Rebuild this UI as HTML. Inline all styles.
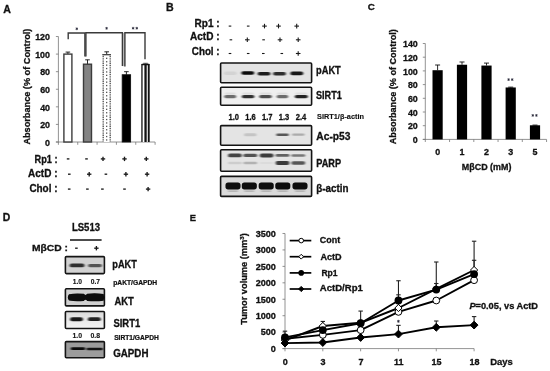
<!DOCTYPE html>
<html><head><meta charset="utf-8"><style>
html,body{margin:0;padding:0;background:#fff;width:550px;height:371px;overflow:hidden}
svg{display:block}
text{font-family:'Liberation Sans', Arial, sans-serif}
</style></head><body>
<svg width="550" height="371" viewBox="0 0 550 371">
<rect width="550" height="371" fill="#fff"/>
<text x="3.2" y="13.3" font-size="10.6" font-weight="bold" text-anchor="start" fill="#111" stroke="#111" stroke-width="0.3" >A</text>
<line x1="58.4" y1="36.519999999999996" x2="58.4" y2="142.3" stroke="#777" stroke-width="0.8" />
<line x1="55.9" y1="142.0" x2="58.4" y2="142.0" stroke="#777" stroke-width="0.8" />
<text x="50.0" y="145.7" font-size="8.9" font-weight="bold" text-anchor="end" fill="#111" stroke="#111" stroke-width="0.3" >0</text>
<line x1="55.9" y1="124.42" x2="58.4" y2="124.42" stroke="#777" stroke-width="0.8" />
<text x="50.0" y="128.12" font-size="8.9" font-weight="bold" text-anchor="end" fill="#111" stroke="#111" stroke-width="0.3" >20</text>
<line x1="55.9" y1="106.84" x2="58.4" y2="106.84" stroke="#777" stroke-width="0.8" />
<text x="50.0" y="110.54" font-size="8.9" font-weight="bold" text-anchor="end" fill="#111" stroke="#111" stroke-width="0.3" >40</text>
<line x1="55.9" y1="89.25999999999999" x2="58.4" y2="89.25999999999999" stroke="#777" stroke-width="0.8" />
<text x="50.0" y="92.96" font-size="8.9" font-weight="bold" text-anchor="end" fill="#111" stroke="#111" stroke-width="0.3" >60</text>
<line x1="55.9" y1="71.68" x2="58.4" y2="71.68" stroke="#777" stroke-width="0.8" />
<text x="50.0" y="75.38000000000001" font-size="8.9" font-weight="bold" text-anchor="end" fill="#111" stroke="#111" stroke-width="0.3" >80</text>
<line x1="55.9" y1="54.099999999999994" x2="58.4" y2="54.099999999999994" stroke="#777" stroke-width="0.8" />
<text x="50.0" y="57.8" font-size="8.9" font-weight="bold" text-anchor="end" fill="#111" stroke="#111" stroke-width="0.3" >100</text>
<line x1="55.9" y1="36.519999999999996" x2="58.4" y2="36.519999999999996" stroke="#777" stroke-width="0.8" />
<text x="50.0" y="40.22" font-size="8.9" font-weight="bold" text-anchor="end" fill="#111" stroke="#111" stroke-width="0.3" >120</text>
<line x1="55.9" y1="142" x2="155.1" y2="142" stroke="#777" stroke-width="0.8" />
<line x1="58.4" y1="142" x2="58.4" y2="144.8" stroke="#777" stroke-width="0.8" />
<line x1="77.74" y1="142" x2="77.74" y2="144.8" stroke="#777" stroke-width="0.8" />
<line x1="97.08" y1="142" x2="97.08" y2="144.8" stroke="#777" stroke-width="0.8" />
<line x1="116.41999999999999" y1="142" x2="116.41999999999999" y2="144.8" stroke="#777" stroke-width="0.8" />
<line x1="135.76" y1="142" x2="135.76" y2="144.8" stroke="#777" stroke-width="0.8" />
<line x1="155.1" y1="142" x2="155.1" y2="144.8" stroke="#777" stroke-width="0.8" />
<text transform="translate(30.0,86.6) rotate(-90)" x="0" y="0" font-size="9.8" font-weight="bold" text-anchor="middle" fill="#111" stroke="#111" stroke-width="0.3" textLength="116" lengthAdjust="spacingAndGlyphs">Absorbance (% of Control)</text>
<defs><pattern id="dots" width="8.4" height="3.2" patternUnits="userSpaceOnUse"><rect x="3.4" y="0.6" width="1.6" height="1.6" fill="#555"/></pattern></defs>
<line x1="67.9" y1="54.099999999999994" x2="67.9" y2="52.0783" stroke="#111" stroke-width="0.9" />
<line x1="65.60000000000001" y1="52.0783" x2="70.2" y2="52.0783" stroke="#111" stroke-width="0.9" />
<rect x="63.900000000000006" y="54.099999999999994" width="8.0" height="87.9" fill="white" stroke="#3c3c3c" stroke-width="1.4" />
<line x1="87.5" y1="64.2085" x2="87.5" y2="59.813500000000005" stroke="#111" stroke-width="0.9" />
<line x1="85.2" y1="59.813500000000005" x2="89.8" y2="59.813500000000005" stroke="#111" stroke-width="0.9" />
<rect x="83.5" y="64.2085" width="8.0" height="77.7915" fill="#848484" stroke="#3c3c3c" stroke-width="1.4" />
<line x1="106.7" y1="54.099999999999994" x2="106.7" y2="51.8146" stroke="#111" stroke-width="0.9" />
<line x1="104.4" y1="51.8146" x2="109.0" y2="51.8146" stroke="#111" stroke-width="0.9" />
<rect x="103.0" y="54.599999999999994" width="7.4" height="87.4" fill="white" stroke="none" stroke-width="1" />
<line x1="102.5" y1="54.699999999999996" x2="110.9" y2="54.699999999999996" stroke="#333" stroke-width="1.2" />
<line x1="103.2" y1="54.099999999999994" x2="103.2" y2="142" stroke="#4a4a4a" stroke-width="1.3" stroke-dasharray="1.1 0.7"/>
<line x1="110.2" y1="54.099999999999994" x2="110.2" y2="142" stroke="#4a4a4a" stroke-width="1.3" stroke-dasharray="1.1 0.7"/>
<rect x="106.0" y="57.7" width="1.3" height="1.3" fill="#555"/>
<rect x="106.0" y="61.1" width="1.3" height="1.3" fill="#555"/>
<rect x="106.0" y="64.5" width="1.3" height="1.3" fill="#555"/>
<rect x="106.0" y="67.9" width="1.3" height="1.3" fill="#555"/>
<rect x="106.0" y="71.3" width="1.3" height="1.3" fill="#555"/>
<rect x="106.0" y="74.7" width="1.3" height="1.3" fill="#555"/>
<rect x="106.0" y="78.1" width="1.3" height="1.3" fill="#555"/>
<rect x="106.0" y="81.5" width="1.3" height="1.3" fill="#555"/>
<rect x="106.0" y="84.9" width="1.3" height="1.3" fill="#555"/>
<rect x="106.0" y="88.3" width="1.3" height="1.3" fill="#555"/>
<rect x="106.0" y="91.7" width="1.3" height="1.3" fill="#555"/>
<rect x="106.0" y="95.1" width="1.3" height="1.3" fill="#555"/>
<rect x="106.0" y="98.5" width="1.3" height="1.3" fill="#555"/>
<rect x="106.0" y="101.9" width="1.3" height="1.3" fill="#555"/>
<rect x="106.0" y="105.3" width="1.3" height="1.3" fill="#555"/>
<rect x="106.0" y="108.7" width="1.3" height="1.3" fill="#555"/>
<rect x="106.0" y="112.1" width="1.3" height="1.3" fill="#555"/>
<rect x="106.0" y="115.5" width="1.3" height="1.3" fill="#555"/>
<rect x="106.0" y="118.9" width="1.3" height="1.3" fill="#555"/>
<rect x="106.0" y="122.3" width="1.3" height="1.3" fill="#555"/>
<rect x="106.0" y="125.7" width="1.3" height="1.3" fill="#555"/>
<rect x="106.0" y="129.1" width="1.3" height="1.3" fill="#555"/>
<rect x="106.0" y="132.5" width="1.3" height="1.3" fill="#555"/>
<rect x="106.0" y="135.9" width="1.3" height="1.3" fill="#555"/>
<rect x="106.0" y="139.3" width="1.3" height="1.3" fill="#555"/>
<line x1="126.4" y1="74.7565" x2="126.4" y2="71.68" stroke="#111" stroke-width="0.9" />
<line x1="124.10000000000001" y1="71.68" x2="128.70000000000002" y2="71.68" stroke="#111" stroke-width="0.9" />
<rect x="122.2" y="74.7565" width="8.4" height="67.2435" fill="#000" stroke="#111" stroke-width="0.9" />
<line x1="145.5" y1="63.769000000000005" x2="145.5" y2="63.329499999999996" stroke="#111" stroke-width="0.9" />
<line x1="143.2" y1="63.329499999999996" x2="147.8" y2="63.329499999999996" stroke="#111" stroke-width="0.9" />
<rect x="141.4" y="63.769000000000005" width="8.200000000000001" height="78.231" fill="#fff" stroke="none" stroke-width="1" />
<rect x="141.3" y="63.769000000000005" width="8.4" height="1.6" rx="0.8" fill="#111"/>
<rect x="141.3" y="64.369" width="1.3" height="77.631" fill="#111" stroke="none" stroke-width="1" />
<rect x="144.4" y="64.369" width="2.3" height="77.631" fill="#111" stroke="none" stroke-width="1" />
<rect x="147.8" y="64.369" width="1.9" height="77.631" fill="#111" stroke="none" stroke-width="1" />
<rect x="122.3" y="33" width="2.6" height="33.2" fill="#c4c4c4"/>
<polyline points="68.2,39.3 68.2,33 84.9,33 84.9,56.6" fill="none" stroke="#3a3a3a" stroke-width="1.4"/>
<polyline points="85.9,56.6 85.9,32.8 122.4,32.8 122.4,66.0" fill="none" stroke="#3a3a3a" stroke-width="1.4"/>
<polyline points="124.9,66.4 124.9,32.8 145,32.8 145,59.3" fill="none" stroke="#3a3a3a" stroke-width="1.4"/>
<line x1="76.80" y1="27.45" x2="76.80" y2="30.15" stroke="#223" stroke-width="0.75"/>
<line x1="75.63" y1="28.12" x2="77.97" y2="29.48" stroke="#223" stroke-width="0.75"/>
<line x1="77.97" y1="28.12" x2="75.63" y2="29.48" stroke="#223" stroke-width="0.75"/>
<line x1="106.60" y1="26.95" x2="106.60" y2="29.65" stroke="#223" stroke-width="0.75"/>
<line x1="105.43" y1="27.62" x2="107.77" y2="28.98" stroke="#223" stroke-width="0.75"/>
<line x1="107.77" y1="27.62" x2="105.43" y2="28.98" stroke="#223" stroke-width="0.75"/>
<line x1="133.10" y1="26.85" x2="133.10" y2="29.55" stroke="#223" stroke-width="0.75"/>
<line x1="131.93" y1="27.52" x2="134.27" y2="28.88" stroke="#223" stroke-width="0.75"/>
<line x1="134.27" y1="27.52" x2="131.93" y2="28.88" stroke="#223" stroke-width="0.75"/>
<line x1="136.80" y1="26.85" x2="136.80" y2="29.55" stroke="#223" stroke-width="0.75"/>
<line x1="135.63" y1="27.52" x2="137.97" y2="28.88" stroke="#223" stroke-width="0.75"/>
<line x1="137.97" y1="27.52" x2="135.63" y2="28.88" stroke="#223" stroke-width="0.75"/>
<text x="57.5" y="162.5" font-size="10.0" font-weight="bold" text-anchor="end" fill="#111" stroke="#111" stroke-width="0.3" textLength="23.0" lengthAdjust="spacingAndGlyphs" >Rp1 :</text>
<text x="57.5" y="176.6" font-size="10.0" font-weight="bold" text-anchor="end" fill="#111" stroke="#111" stroke-width="0.3" textLength="29.4" lengthAdjust="spacingAndGlyphs" >ActD :</text>
<text x="57.5" y="192.1" font-size="10.0" font-weight="bold" text-anchor="end" fill="#111" stroke="#111" stroke-width="0.3" textLength="28.1" lengthAdjust="spacingAndGlyphs" >Chol :</text>
<line x1="66.8" y1="158.9" x2="69.39999999999999" y2="158.9" stroke="#1a1a1a" stroke-width="1.35" />
<line x1="85.2" y1="158.9" x2="87.8" y2="158.9" stroke="#1a1a1a" stroke-width="1.35" />
<line x1="100.8" y1="158.9" x2="105.2" y2="158.9" stroke="#1a1a1a" stroke-width="1.35" />
<line x1="103.0" y1="156.70000000000002" x2="103.0" y2="161.1" stroke="#1a1a1a" stroke-width="1.35" />
<line x1="122.3" y1="158.9" x2="126.7" y2="158.9" stroke="#1a1a1a" stroke-width="1.35" />
<line x1="124.5" y1="156.70000000000002" x2="124.5" y2="161.1" stroke="#1a1a1a" stroke-width="1.35" />
<line x1="144.10000000000002" y1="158.9" x2="148.5" y2="158.9" stroke="#1a1a1a" stroke-width="1.35" />
<line x1="146.3" y1="156.70000000000002" x2="146.3" y2="161.1" stroke="#1a1a1a" stroke-width="1.35" />
<line x1="68.0" y1="174.2" x2="70.6" y2="174.2" stroke="#1a1a1a" stroke-width="1.35" />
<line x1="87.0" y1="174.2" x2="91.4" y2="174.2" stroke="#1a1a1a" stroke-width="1.35" />
<line x1="89.2" y1="172.0" x2="89.2" y2="176.39999999999998" stroke="#1a1a1a" stroke-width="1.35" />
<line x1="104.60000000000001" y1="174.2" x2="107.2" y2="174.2" stroke="#1a1a1a" stroke-width="1.35" />
<line x1="123.7" y1="174.2" x2="128.1" y2="174.2" stroke="#1a1a1a" stroke-width="1.35" />
<line x1="125.9" y1="172.0" x2="125.9" y2="176.39999999999998" stroke="#1a1a1a" stroke-width="1.35" />
<line x1="144.9" y1="174.2" x2="149.29999999999998" y2="174.2" stroke="#1a1a1a" stroke-width="1.35" />
<line x1="147.1" y1="172.0" x2="147.1" y2="176.39999999999998" stroke="#1a1a1a" stroke-width="1.35" />
<line x1="67.9" y1="189.1" x2="70.5" y2="189.1" stroke="#1a1a1a" stroke-width="1.35" />
<line x1="86.10000000000001" y1="189.1" x2="88.7" y2="189.1" stroke="#1a1a1a" stroke-width="1.35" />
<line x1="101.10000000000001" y1="189.1" x2="103.7" y2="189.1" stroke="#1a1a1a" stroke-width="1.35" />
<line x1="123.2" y1="189.1" x2="125.8" y2="189.1" stroke="#1a1a1a" stroke-width="1.35" />
<line x1="145.9" y1="189.1" x2="150.29999999999998" y2="189.1" stroke="#1a1a1a" stroke-width="1.35" />
<line x1="148.1" y1="186.9" x2="148.1" y2="191.29999999999998" stroke="#1a1a1a" stroke-width="1.35" />
<text x="165.9" y="10.6" font-size="10.6" font-weight="bold" text-anchor="start" fill="#111" stroke="#111" stroke-width="0.3" >B</text>
<defs><filter id="bl1" x="-30%" y="-100%" width="160%" height="300%"><feGaussianBlur stdDeviation="0.9 0.7"/></filter><filter id="bl2" x="-30%" y="-100%" width="160%" height="300%"><feGaussianBlur stdDeviation="0.6 0.5"/></filter></defs>
<text x="219.6" y="27.3" font-size="10.0" font-weight="bold" text-anchor="end" fill="#111" stroke="#111" stroke-width="0.3" textLength="25.1" lengthAdjust="spacingAndGlyphs" >Rp1 :</text>
<text x="219.6" y="40.0" font-size="10.0" font-weight="bold" text-anchor="end" fill="#111" stroke="#111" stroke-width="0.3" textLength="29.6" lengthAdjust="spacingAndGlyphs" >ActD :</text>
<text x="219.6" y="54.8" font-size="10.0" font-weight="bold" text-anchor="end" fill="#111" stroke="#111" stroke-width="0.3" textLength="27.8" lengthAdjust="spacingAndGlyphs" >Chol :</text>
<line x1="228.7" y1="26.1" x2="231.3" y2="26.1" stroke="#1a1a1a" stroke-width="1.1" />
<line x1="246.89999999999998" y1="26.1" x2="249.5" y2="26.1" stroke="#1a1a1a" stroke-width="1.1" />
<line x1="262.2" y1="26.1" x2="266.8" y2="26.1" stroke="#1a1a1a" stroke-width="1.1" />
<line x1="264.5" y1="23.8" x2="264.5" y2="28.400000000000002" stroke="#1a1a1a" stroke-width="1.1" />
<line x1="276.2" y1="26.1" x2="280.8" y2="26.1" stroke="#1a1a1a" stroke-width="1.1" />
<line x1="278.5" y1="23.8" x2="278.5" y2="28.400000000000002" stroke="#1a1a1a" stroke-width="1.1" />
<line x1="294.4" y1="26.1" x2="299.0" y2="26.1" stroke="#1a1a1a" stroke-width="1.1" />
<line x1="296.7" y1="23.8" x2="296.7" y2="28.400000000000002" stroke="#1a1a1a" stroke-width="1.1" />
<line x1="229.6" y1="39.8" x2="232.20000000000002" y2="39.8" stroke="#1a1a1a" stroke-width="1.1" />
<line x1="245.0" y1="39.8" x2="249.60000000000002" y2="39.8" stroke="#1a1a1a" stroke-width="1.1" />
<line x1="247.3" y1="37.5" x2="247.3" y2="42.099999999999994" stroke="#1a1a1a" stroke-width="1.1" />
<line x1="262.3" y1="39.8" x2="264.90000000000003" y2="39.8" stroke="#1a1a1a" stroke-width="1.1" />
<line x1="277.7" y1="39.8" x2="282.3" y2="39.8" stroke="#1a1a1a" stroke-width="1.1" />
<line x1="280" y1="37.5" x2="280" y2="42.099999999999994" stroke="#1a1a1a" stroke-width="1.1" />
<line x1="295.9" y1="39.8" x2="300.5" y2="39.8" stroke="#1a1a1a" stroke-width="1.1" />
<line x1="298.2" y1="37.5" x2="298.2" y2="42.099999999999994" stroke="#1a1a1a" stroke-width="1.1" />
<line x1="228.7" y1="53.5" x2="231.3" y2="53.5" stroke="#1a1a1a" stroke-width="1.1" />
<line x1="246.89999999999998" y1="53.5" x2="249.5" y2="53.5" stroke="#1a1a1a" stroke-width="1.1" />
<line x1="262.0" y1="53.5" x2="264.6" y2="53.5" stroke="#1a1a1a" stroke-width="1.1" />
<line x1="280.5" y1="53.5" x2="283.1" y2="53.5" stroke="#1a1a1a" stroke-width="1.1" />
<line x1="295.9" y1="53.5" x2="300.5" y2="53.5" stroke="#1a1a1a" stroke-width="1.1" />
<line x1="298.2" y1="51.2" x2="298.2" y2="55.8" stroke="#1a1a1a" stroke-width="1.1" />
<rect x="220.6" y="63.0" width="90.99999999999999" height="19.7" rx="1" fill="#e3e3e3" stroke="#141414" stroke-width="1.6"/>
<rect x="223.9" y="71.5" width="12.8" height="3.6" rx="1.8" fill="#000" fill-opacity="0.07" filter="url(#bl1)"/>
<rect x="241.4" y="71.2" width="12.8" height="3.6" rx="1.8" fill="#000" fill-opacity="0.95" filter="url(#bl1)"/>
<rect x="257.6" y="72.0" width="12.8" height="3.6" rx="1.8" fill="#000" fill-opacity="0.88" filter="url(#bl1)"/>
<rect x="273.1" y="71.9" width="12.8" height="3.6" rx="1.8" fill="#000" fill-opacity="0.8" filter="url(#bl1)"/>
<rect x="290.40000000000003" y="71.60000000000001" width="12.8" height="3.6" rx="1.8" fill="#000" fill-opacity="0.9" filter="url(#bl1)"/>
<rect x="220.6" y="87.3" width="90.99999999999999" height="17.899999999999995" rx="1" fill="#efefef" stroke="#141414" stroke-width="1.6"/>
<rect x="224.2" y="94.94999999999999" width="12.0" height="3.3" rx="1.65" fill="#000" fill-opacity="0.55" filter="url(#bl1)"/>
<rect x="224.7" y="92.39999999999999" width="11.0" height="2.4" rx="1.2" fill="#000" fill-opacity="0.07" filter="url(#bl1)"/>
<rect x="241.85" y="94.94999999999999" width="12.5" height="3.3" rx="1.65" fill="#000" fill-opacity="0.8" filter="url(#bl1)"/>
<rect x="242.35" y="92.39999999999999" width="11.5" height="2.4" rx="1.2" fill="#000" fill-opacity="0.07" filter="url(#bl1)"/>
<rect x="259.25" y="94.94999999999999" width="12.5" height="3.3" rx="1.65" fill="#000" fill-opacity="0.68" filter="url(#bl1)"/>
<rect x="259.75" y="92.39999999999999" width="11.5" height="2.4" rx="1.2" fill="#000" fill-opacity="0.07" filter="url(#bl1)"/>
<rect x="276.65" y="94.94999999999999" width="11.5" height="3.3" rx="1.65" fill="#000" fill-opacity="0.55" filter="url(#bl1)"/>
<rect x="277.15" y="92.39999999999999" width="10.5" height="2.4" rx="1.2" fill="#000" fill-opacity="0.07" filter="url(#bl1)"/>
<rect x="294.8" y="94.94999999999999" width="13.0" height="3.3" rx="1.65" fill="#000" fill-opacity="0.86" filter="url(#bl1)"/>
<rect x="295.3" y="92.39999999999999" width="12.0" height="2.4" rx="1.2" fill="#000" fill-opacity="0.07" filter="url(#bl1)"/>
<text x="233.7" y="119.5" font-size="8.6" font-weight="bold" text-anchor="middle" fill="#111" stroke="#111" stroke-width="0.3" textLength="10.5" lengthAdjust="spacingAndGlyphs" >1.0</text>
<text x="250.5" y="119.5" font-size="8.6" font-weight="bold" text-anchor="middle" fill="#111" stroke="#111" stroke-width="0.3" textLength="10.5" lengthAdjust="spacingAndGlyphs" >1.6</text>
<text x="267.2" y="119.5" font-size="8.6" font-weight="bold" text-anchor="middle" fill="#111" stroke="#111" stroke-width="0.3" textLength="10.5" lengthAdjust="spacingAndGlyphs" >1.7</text>
<text x="284" y="119.5" font-size="8.6" font-weight="bold" text-anchor="middle" fill="#111" stroke="#111" stroke-width="0.3" textLength="10.5" lengthAdjust="spacingAndGlyphs" >1.3</text>
<text x="301" y="119.5" font-size="8.6" font-weight="bold" text-anchor="middle" fill="#111" stroke="#111" stroke-width="0.3" textLength="10.5" lengthAdjust="spacingAndGlyphs" >2.4</text>
<text x="317" y="119.2" font-size="6.7" font-weight="bold" text-anchor="start" fill="#111" stroke="#111" stroke-width="0.12" textLength="47" lengthAdjust="spacingAndGlyphs" >SIRT1/&#946;-actin</text>
<rect x="220.6" y="125.6" width="90.99999999999999" height="19.600000000000012" rx="1" fill="#e4e4e4" stroke="#141414" stroke-width="1.6"/>
<rect x="244.05" y="133.2" width="12.5" height="3.0" rx="1.5" fill="#000" fill-opacity="0.14" filter="url(#bl1)"/>
<rect x="276.25" y="133.5" width="12.5" height="2.4" rx="1.2" fill="#000" fill-opacity="0.62" filter="url(#bl1)"/>
<rect x="292.05" y="133.6" width="12.5" height="2.2" rx="1.1" fill="#000" fill-opacity="0.25" filter="url(#bl1)"/>
<rect x="220.6" y="149.79999999999998" width="90.99999999999999" height="21.400000000000023" rx="1" fill="#e4e4e4" stroke="#141414" stroke-width="1.6"/>
<rect x="228.0" y="153.5" width="13.8" height="3.8" rx="1.9" fill="#000" fill-opacity="0.7" filter="url(#bl1)"/>
<rect x="243.4" y="153.75" width="13.8" height="3.3" rx="1.65" fill="#000" fill-opacity="0.64" filter="url(#bl1)"/>
<rect x="259.70000000000005" y="153.4" width="13.8" height="4.0" rx="2.0" fill="#000" fill-opacity="0.74" filter="url(#bl1)"/>
<rect x="275.6" y="154.05" width="13.8" height="2.7" rx="1.35" fill="#000" fill-opacity="0.58" filter="url(#bl1)"/>
<rect x="291.40000000000003" y="154.15" width="13.8" height="2.5" rx="1.25" fill="#000" fill-opacity="0.48" filter="url(#bl1)"/>
<rect x="228.0" y="161.8" width="13.8" height="2.4" rx="1.2" fill="#000" fill-opacity="0.1" filter="url(#bl1)"/>
<rect x="243.4" y="161.7" width="13.8" height="2.6" rx="1.3" fill="#000" fill-opacity="0.22" filter="url(#bl1)"/>
<rect x="259.70000000000005" y="162.0" width="13.8" height="2" rx="1.0" fill="#000" fill-opacity="0.04" filter="url(#bl1)"/>
<rect x="275.6" y="161.1" width="13.8" height="3.8" rx="1.9" fill="#000" fill-opacity="0.74" filter="url(#bl1)"/>
<rect x="291.40000000000003" y="161.35" width="13.8" height="3.3" rx="1.65" fill="#000" fill-opacity="0.62" filter="url(#bl1)"/>
<rect x="220.6" y="176.4" width="90.99999999999999" height="19.99999999999999" rx="1" fill="#dadada" stroke="#141414" stroke-width="1.6"/>
<rect x="225.5" y="182.5" width="15.0" height="6.9" rx="2.6" fill="#080808" filter="url(#bl2)"/>
<rect x="228.0" y="190.6" width="10" height="1.2" rx="0.6" fill="#000" fill-opacity="0.22" filter="url(#bl1)"/>
<rect x="241.8" y="182.5" width="15.0" height="6.9" rx="2.6" fill="#080808" filter="url(#bl2)"/>
<rect x="244.3" y="190.6" width="10" height="1.2" rx="0.6" fill="#000" fill-opacity="0.22" filter="url(#bl1)"/>
<rect x="258.7" y="182.5" width="15.0" height="6.9" rx="2.6" fill="#080808" filter="url(#bl2)"/>
<rect x="261.2" y="190.6" width="10" height="1.2" rx="0.6" fill="#000" fill-opacity="0.22" filter="url(#bl1)"/>
<rect x="275.3" y="182.5" width="15.0" height="6.9" rx="2.6" fill="#080808" filter="url(#bl2)"/>
<rect x="277.8" y="190.6" width="10" height="1.2" rx="0.6" fill="#000" fill-opacity="0.22" filter="url(#bl1)"/>
<rect x="292.5" y="182.5" width="15.0" height="6.9" rx="2.6" fill="#080808" filter="url(#bl2)"/>
<rect x="295.0" y="190.6" width="10" height="1.2" rx="0.6" fill="#000" fill-opacity="0.22" filter="url(#bl1)"/>
<text x="316.0" y="74.4" font-size="10.2" font-weight="bold" text-anchor="start" fill="#111" stroke="#111" stroke-width="0.3" textLength="24.8" lengthAdjust="spacingAndGlyphs" >pAKT</text>
<text x="316.0" y="98.5" font-size="10.2" font-weight="bold" text-anchor="start" fill="#111" stroke="#111" stroke-width="0.3" textLength="25.8" lengthAdjust="spacingAndGlyphs" >SIRT1</text>
<text x="316.3" y="140.4" font-size="10.2" font-weight="bold" text-anchor="start" fill="#111" stroke="#111" stroke-width="0.3" textLength="34.2" lengthAdjust="spacingAndGlyphs" >Ac-p53</text>
<text x="316.3" y="166.6" font-size="10.2" font-weight="bold" text-anchor="start" fill="#111" stroke="#111" stroke-width="0.3" textLength="24.8" lengthAdjust="spacingAndGlyphs" >PARP</text>
<text x="316.3" y="192.0" font-size="10.2" font-weight="bold" text-anchor="start" fill="#111" stroke="#111" stroke-width="0.3" textLength="32.2" lengthAdjust="spacingAndGlyphs" >&#946;-actin</text>
<text x="367.8" y="10.4" font-size="9.8" font-weight="bold" text-anchor="start" fill="#111" stroke="#111" stroke-width="0.3" >C</text>
<line x1="425.3" y1="43.5" x2="425.3" y2="139.6" stroke="#777" stroke-width="0.8" />
<line x1="422.8" y1="139.4" x2="425.3" y2="139.4" stroke="#777" stroke-width="0.8" />
<text x="417.8" y="143.0" font-size="8.9" font-weight="bold" text-anchor="end" fill="#111" stroke="#111" stroke-width="0.3" >0</text>
<line x1="422.8" y1="125.7" x2="425.3" y2="125.7" stroke="#777" stroke-width="0.8" />
<text x="417.8" y="129.3" font-size="8.9" font-weight="bold" text-anchor="end" fill="#111" stroke="#111" stroke-width="0.3" >20</text>
<line x1="422.8" y1="112.0" x2="425.3" y2="112.0" stroke="#777" stroke-width="0.8" />
<text x="417.8" y="115.6" font-size="8.9" font-weight="bold" text-anchor="end" fill="#111" stroke="#111" stroke-width="0.3" >40</text>
<line x1="422.8" y1="98.30000000000001" x2="425.3" y2="98.30000000000001" stroke="#777" stroke-width="0.8" />
<text x="417.8" y="101.9" font-size="8.9" font-weight="bold" text-anchor="end" fill="#111" stroke="#111" stroke-width="0.3" >60</text>
<line x1="422.8" y1="84.6" x2="425.3" y2="84.6" stroke="#777" stroke-width="0.8" />
<text x="417.8" y="88.19999999999999" font-size="8.9" font-weight="bold" text-anchor="end" fill="#111" stroke="#111" stroke-width="0.3" >80</text>
<line x1="422.8" y1="70.9" x2="425.3" y2="70.9" stroke="#777" stroke-width="0.8" />
<text x="417.8" y="74.5" font-size="8.9" font-weight="bold" text-anchor="end" fill="#111" stroke="#111" stroke-width="0.3" >100</text>
<line x1="422.8" y1="57.2" x2="425.3" y2="57.2" stroke="#777" stroke-width="0.8" />
<text x="417.8" y="60.800000000000004" font-size="8.9" font-weight="bold" text-anchor="end" fill="#111" stroke="#111" stroke-width="0.3" >120</text>
<line x1="422.8" y1="43.5" x2="425.3" y2="43.5" stroke="#777" stroke-width="0.8" />
<text x="417.8" y="47.1" font-size="8.9" font-weight="bold" text-anchor="end" fill="#111" stroke="#111" stroke-width="0.3" >140</text>
<line x1="422.8" y1="139.4" x2="546.5" y2="139.4" stroke="#777" stroke-width="0.8" />
<line x1="425.3" y1="139.4" x2="425.3" y2="142" stroke="#777" stroke-width="0.8" />
<line x1="449.55" y1="139.4" x2="449.55" y2="142" stroke="#777" stroke-width="0.8" />
<line x1="473.8" y1="139.4" x2="473.8" y2="142" stroke="#777" stroke-width="0.8" />
<line x1="498.05" y1="139.4" x2="498.05" y2="142" stroke="#777" stroke-width="0.8" />
<line x1="522.3" y1="139.4" x2="522.3" y2="142" stroke="#777" stroke-width="0.8" />
<line x1="546.55" y1="139.4" x2="546.55" y2="142" stroke="#777" stroke-width="0.8" />
<text transform="translate(395.5,86.7) rotate(-90)" x="0" y="0" font-size="9.6" font-weight="bold" text-anchor="middle" fill="#111" stroke="#111" stroke-width="0.3" textLength="115" lengthAdjust="spacingAndGlyphs">Absorbance (% of Control)</text>
<line x1="437.6" y1="70.215" x2="437.6" y2="65.009" stroke="#111" stroke-width="0.9" />
<line x1="435.1" y1="65.009" x2="440.1" y2="65.009" stroke="#111" stroke-width="0.9" />
<rect x="432.5" y="70.215" width="10.2" height="69.185" fill="#000" stroke="none" stroke-width="1" />
<text x="437.6" y="155.0" font-size="8.9" font-weight="bold" text-anchor="middle" fill="#111" stroke="#111" stroke-width="0.3" >0</text>
<line x1="462.0" y1="64.735" x2="462.0" y2="61.995000000000005" stroke="#111" stroke-width="0.9" />
<line x1="459.5" y1="61.995000000000005" x2="464.5" y2="61.995000000000005" stroke="#111" stroke-width="0.9" />
<rect x="456.9" y="64.735" width="10.2" height="74.665" fill="#000" stroke="none" stroke-width="1" />
<text x="462.0" y="155.0" font-size="8.9" font-weight="bold" text-anchor="middle" fill="#111" stroke="#111" stroke-width="0.3" >1</text>
<line x1="486.5" y1="65.557" x2="486.5" y2="63.09100000000001" stroke="#111" stroke-width="0.9" />
<line x1="484.0" y1="63.09100000000001" x2="489.0" y2="63.09100000000001" stroke="#111" stroke-width="0.9" />
<rect x="481.4" y="65.557" width="10.2" height="73.843" fill="#000" stroke="none" stroke-width="1" />
<text x="486.5" y="155.0" font-size="8.9" font-weight="bold" text-anchor="middle" fill="#111" stroke="#111" stroke-width="0.3" >2</text>
<line x1="510.7" y1="87.477" x2="510.7" y2="87.1345" stroke="#111" stroke-width="0.9" />
<line x1="508.2" y1="87.1345" x2="513.2" y2="87.1345" stroke="#111" stroke-width="0.9" />
<rect x="505.59999999999997" y="87.477" width="10.2" height="51.923" fill="#000" stroke="none" stroke-width="1" />
<text x="510.7" y="155.0" font-size="8.9" font-weight="bold" text-anchor="middle" fill="#111" stroke="#111" stroke-width="0.3" >3</text>
<line x1="535.0" y1="125.289" x2="535.0" y2="125.0835" stroke="#111" stroke-width="0.9" />
<line x1="532.5" y1="125.0835" x2="537.5" y2="125.0835" stroke="#111" stroke-width="0.9" />
<rect x="529.9" y="125.289" width="10.2" height="14.111000000000004" fill="#000" stroke="none" stroke-width="1" />
<text x="535.0" y="155.0" font-size="8.9" font-weight="bold" text-anchor="middle" fill="#111" stroke="#111" stroke-width="0.3" >5</text>
<line x1="508.60" y1="78.25" x2="508.60" y2="80.95" stroke="#223" stroke-width="0.75"/>
<line x1="507.43" y1="78.92" x2="509.77" y2="80.27" stroke="#223" stroke-width="0.75"/>
<line x1="509.77" y1="78.92" x2="507.43" y2="80.27" stroke="#223" stroke-width="0.75"/>
<line x1="512.20" y1="78.25" x2="512.20" y2="80.95" stroke="#223" stroke-width="0.75"/>
<line x1="511.03" y1="78.92" x2="513.37" y2="80.27" stroke="#223" stroke-width="0.75"/>
<line x1="513.37" y1="78.92" x2="511.03" y2="80.27" stroke="#223" stroke-width="0.75"/>
<line x1="532.80" y1="114.05" x2="532.80" y2="116.75" stroke="#223" stroke-width="0.75"/>
<line x1="531.63" y1="114.73" x2="533.97" y2="116.08" stroke="#223" stroke-width="0.75"/>
<line x1="533.97" y1="114.73" x2="531.63" y2="116.08" stroke="#223" stroke-width="0.75"/>
<line x1="536.40" y1="114.05" x2="536.40" y2="116.75" stroke="#223" stroke-width="0.75"/>
<line x1="535.23" y1="114.73" x2="537.57" y2="116.08" stroke="#223" stroke-width="0.75"/>
<line x1="537.57" y1="114.73" x2="535.23" y2="116.08" stroke="#223" stroke-width="0.75"/>
<text x="486.6" y="169.9" font-size="9.0" font-weight="bold" text-anchor="middle" fill="#111" stroke="#111" stroke-width="0.3" textLength="49.6" lengthAdjust="spacingAndGlyphs" >M&#946;CD (mM)</text>
<text x="2.8" y="221.2" font-size="10.4" font-weight="bold" text-anchor="start" fill="#111" stroke="#111" stroke-width="0.3" >D</text>
<text x="86.0" y="231.1" font-size="10.3" font-weight="bold" text-anchor="middle" fill="#111" stroke="#111" stroke-width="0.3" textLength="28.2" lengthAdjust="spacingAndGlyphs" >LS513</text>
<line x1="70" y1="240" x2="101.6" y2="240" stroke="#111" stroke-width="1.5" />
<text x="68.0" y="251.2" font-size="9.8" font-weight="bold" text-anchor="end" fill="#111" stroke="#111" stroke-width="0.3" textLength="36" lengthAdjust="spacingAndGlyphs" >M&#946;CD :</text>
<line x1="75.10000000000001" y1="248.2" x2="77.7" y2="248.2" stroke="#1a1a1a" stroke-width="1.35" />
<line x1="94.2" y1="248.2" x2="98.60000000000001" y2="248.2" stroke="#1a1a1a" stroke-width="1.35" />
<line x1="96.4" y1="246.0" x2="96.4" y2="250.39999999999998" stroke="#1a1a1a" stroke-width="1.35" />
<rect x="65.39999999999999" y="256.6" width="39.0" height="16.99999999999999" rx="1" fill="#d2d2d2" stroke="#141414" stroke-width="1.6"/>
<rect x="69.6" y="263.45" width="14.8" height="3.9" rx="1.95" fill="#000" fill-opacity="0.78" filter="url(#bl1)"/>
<rect x="88.1" y="264.05" width="13.8" height="3.1" rx="1.55" fill="#000" fill-opacity="0.6" filter="url(#bl1)"/>
<text x="77.4" y="283.9" font-size="7.4" font-weight="bold" text-anchor="middle" fill="#111" stroke="#111" stroke-width="0.12" textLength="9.3" lengthAdjust="spacingAndGlyphs" >1.0</text>
<text x="95.4" y="283.9" font-size="7.4" font-weight="bold" text-anchor="middle" fill="#111" stroke="#111" stroke-width="0.12" textLength="9.3" lengthAdjust="spacingAndGlyphs" >0.7</text>
<text x="113.2" y="284.8" font-size="6.3" font-weight="bold" text-anchor="start" fill="#111" stroke="#111" stroke-width="0.22" textLength="44" lengthAdjust="spacingAndGlyphs" >pAKT/GAPDH</text>
<rect x="65.39999999999999" y="288.8" width="39.0" height="17.100000000000012" rx="1" fill="#d0d0d0" stroke="#141414" stroke-width="1.6"/>
<path d="M69,294.2 Q76,292.8 83.8,293.8 Q85.6,296.0 87.2,293.8 Q95,292.8 103.6,294.0 L104.4,297.4 L103.6,300.8 Q95,301.8 87.2,300.9 Q85.6,298.8 83.8,300.9 Q76,301.9 69,300.6 Q66.6,297.4 69,294.2 Z" fill="#080808" filter="url(#bl2)"/>
<defs><linearGradient id="gS" x1="0" y1="0" x2="0" y2="1"><stop offset="0" stop-color="#d9d9d9"/><stop offset="0.45" stop-color="#e8e8e8"/><stop offset="1" stop-color="#f4f4f4"/></linearGradient></defs>
<rect x="65.39999999999999" y="311.5" width="39.0" height="17.000000000000046" rx="1" fill="url(#gS)" stroke="#141414" stroke-width="1.6"/>
<rect x="70.1" y="317.25" width="12.8" height="3.9" rx="1.95" fill="#000" fill-opacity="0.9" filter="url(#bl1)"/>
<rect x="87.89999999999999" y="317.34999999999997" width="12.8" height="3.7" rx="1.85" fill="#000" fill-opacity="0.86" filter="url(#bl1)"/>
<text x="77.2" y="337.9" font-size="7.4" font-weight="bold" text-anchor="middle" fill="#111" stroke="#111" stroke-width="0.12" textLength="9.6" lengthAdjust="spacingAndGlyphs" >1.0</text>
<text x="95.2" y="337.9" font-size="7.4" font-weight="bold" text-anchor="middle" fill="#111" stroke="#111" stroke-width="0.12" textLength="9.6" lengthAdjust="spacingAndGlyphs" >0.8</text>
<text x="114.2" y="339.8" font-size="6.3" font-weight="bold" text-anchor="start" fill="#111" stroke="#111" stroke-width="0.22" textLength="44.7" lengthAdjust="spacingAndGlyphs" >SIRT1/GAPDH</text>
<rect x="65.39999999999999" y="341.6" width="39.0" height="16.100000000000012" rx="1" fill="#9c9c9c" stroke="#141414" stroke-width="1.6"/>
<rect x="70.75" y="347.3" width="14.5" height="2.8" rx="1.4" fill="#000" fill-opacity="0.92" filter="url(#bl1)"/>
<rect x="86.45" y="347.7" width="16.5" height="2.6" rx="1.3" fill="#000" fill-opacity="0.88" filter="url(#bl1)"/>
<text x="112.3" y="268.4" font-size="10.4" font-weight="bold" text-anchor="start" fill="#111" stroke="#111" stroke-width="0.3" textLength="24.6" lengthAdjust="spacingAndGlyphs" >pAKT</text>
<text x="114.4" y="305.2" font-size="10.4" font-weight="bold" text-anchor="start" fill="#111" stroke="#111" stroke-width="0.3" textLength="19.4" lengthAdjust="spacingAndGlyphs" >AKT</text>
<text x="113.4" y="327.0" font-size="10.4" font-weight="bold" text-anchor="start" fill="#111" stroke="#111" stroke-width="0.3" textLength="26.8" lengthAdjust="spacingAndGlyphs" >SIRT1</text>
<text x="113.2" y="357.3" font-size="10.4" font-weight="bold" text-anchor="start" fill="#111" stroke="#111" stroke-width="0.3" textLength="35.3" lengthAdjust="spacingAndGlyphs" >GAPDH</text>
<text x="189.8" y="221.4" font-size="9.4" font-weight="bold" text-anchor="start" fill="#111" stroke="#111" stroke-width="0.3" >E</text>
<line x1="285.0" y1="233.485" x2="285.0" y2="348.8" stroke="#777" stroke-width="0.8" />
<line x1="282.5" y1="348.6" x2="285.0" y2="348.6" stroke="#777" stroke-width="0.8" />
<text x="275.9" y="351.90000000000003" font-size="9.1" font-weight="bold" text-anchor="end" fill="#111" stroke="#111" stroke-width="0.3" >0</text>
<line x1="282.5" y1="332.15500000000003" x2="285.0" y2="332.15500000000003" stroke="#777" stroke-width="0.8" />
<text x="275.9" y="335.45500000000004" font-size="9.1" font-weight="bold" text-anchor="end" fill="#111" stroke="#111" stroke-width="0.3" >500</text>
<line x1="282.5" y1="315.71000000000004" x2="285.0" y2="315.71000000000004" stroke="#777" stroke-width="0.8" />
<text x="275.9" y="319.01000000000005" font-size="9.1" font-weight="bold" text-anchor="end" fill="#111" stroke="#111" stroke-width="0.3" >1000</text>
<line x1="282.5" y1="299.26500000000004" x2="285.0" y2="299.26500000000004" stroke="#777" stroke-width="0.8" />
<text x="275.9" y="302.56500000000005" font-size="9.1" font-weight="bold" text-anchor="end" fill="#111" stroke="#111" stroke-width="0.3" >1500</text>
<line x1="282.5" y1="282.82000000000005" x2="285.0" y2="282.82000000000005" stroke="#777" stroke-width="0.8" />
<text x="275.9" y="286.12000000000006" font-size="9.1" font-weight="bold" text-anchor="end" fill="#111" stroke="#111" stroke-width="0.3" >2000</text>
<line x1="282.5" y1="266.375" x2="285.0" y2="266.375" stroke="#777" stroke-width="0.8" />
<text x="275.9" y="269.675" font-size="9.1" font-weight="bold" text-anchor="end" fill="#111" stroke="#111" stroke-width="0.3" >2500</text>
<line x1="282.5" y1="249.93" x2="285.0" y2="249.93" stroke="#777" stroke-width="0.8" />
<text x="275.9" y="253.23000000000002" font-size="9.1" font-weight="bold" text-anchor="end" fill="#111" stroke="#111" stroke-width="0.3" >3000</text>
<line x1="282.5" y1="233.485" x2="285.0" y2="233.485" stroke="#777" stroke-width="0.8" />
<text x="275.9" y="236.78500000000003" font-size="9.1" font-weight="bold" text-anchor="end" fill="#111" stroke="#111" stroke-width="0.3" >3500</text>
<line x1="282.5" y1="348.6" x2="474.1" y2="348.6" stroke="#777" stroke-width="0.8" />
<line x1="285.0" y1="348.6" x2="285.0" y2="351.3" stroke="#777" stroke-width="0.8" />
<text x="285.3" y="364.7" font-size="9.0" font-weight="bold" text-anchor="middle" fill="#111" stroke="#111" stroke-width="0.3" >0</text>
<line x1="322.82" y1="348.6" x2="322.82" y2="351.3" stroke="#777" stroke-width="0.8" />
<text x="323.12" y="364.7" font-size="9.0" font-weight="bold" text-anchor="middle" fill="#111" stroke="#111" stroke-width="0.3" >3</text>
<line x1="360.64" y1="348.6" x2="360.64" y2="351.3" stroke="#777" stroke-width="0.8" />
<text x="360.94" y="364.7" font-size="9.0" font-weight="bold" text-anchor="middle" fill="#111" stroke="#111" stroke-width="0.3" >7</text>
<line x1="398.46000000000004" y1="348.6" x2="398.46000000000004" y2="351.3" stroke="#777" stroke-width="0.8" />
<text x="398.76000000000005" y="364.7" font-size="9.0" font-weight="bold" text-anchor="middle" fill="#111" stroke="#111" stroke-width="0.3" >11</text>
<line x1="436.28" y1="348.6" x2="436.28" y2="351.3" stroke="#777" stroke-width="0.8" />
<text x="436.58" y="364.7" font-size="9.0" font-weight="bold" text-anchor="middle" fill="#111" stroke="#111" stroke-width="0.3" >15</text>
<line x1="474.1" y1="348.6" x2="474.1" y2="351.3" stroke="#777" stroke-width="0.8" />
<text x="474.40000000000003" y="364.7" font-size="9.0" font-weight="bold" text-anchor="middle" fill="#111" stroke="#111" stroke-width="0.3" >18</text>
<text x="490.2" y="364.6" font-size="9.8" font-weight="bold" text-anchor="start" fill="#111" stroke="#111" stroke-width="0.3" textLength="22.6" lengthAdjust="spacingAndGlyphs" >Days</text>
<text transform="translate(247.0,279.0) rotate(-90)" x="0" y="0" font-size="9.2" font-weight="bold" text-anchor="middle" fill="#111" stroke="#111" stroke-width="0.3" textLength="91.5" lengthAdjust="spacingAndGlyphs">Tumor volume (mm<tspan font-size="6" dy="-3">3</tspan><tspan dy="3">)</tspan></text>
<line x1="322.82" y1="326.03746" x2="322.82" y2="321.43286" stroke="#222" stroke-width="1.1" />
<line x1="320.62" y1="321.43286" x2="325.02" y2="321.43286" stroke="#222" stroke-width="1.1" />
<line x1="398.46000000000004" y1="307.98085000000003" x2="398.46000000000004" y2="294.82485" stroke="#222" stroke-width="1.1" />
<line x1="396.26000000000005" y1="294.82485" x2="400.66" y2="294.82485" stroke="#222" stroke-width="1.1" />
<line x1="436.28" y1="288.93754" x2="436.28" y2="283.51069" stroke="#222" stroke-width="1.1" />
<line x1="434.08" y1="283.51069" x2="438.47999999999996" y2="283.51069" stroke="#222" stroke-width="1.1" />
<line x1="474.1" y1="269.9929" x2="474.1" y2="241.21415000000002" stroke="#222" stroke-width="1.1" />
<line x1="471.90000000000003" y1="241.21415000000002" x2="476.3" y2="241.21415000000002" stroke="#222" stroke-width="1.1" />
<line x1="285.0" y1="337.41740000000004" x2="285.0" y2="331.16830000000004" stroke="#222" stroke-width="1.1" />
<line x1="282.8" y1="331.16830000000004" x2="287.2" y2="331.16830000000004" stroke="#222" stroke-width="1.1" />
<line x1="360.64" y1="323.24181000000004" x2="360.64" y2="311.07251" stroke="#222" stroke-width="1.1" />
<line x1="358.44" y1="311.07251" x2="362.84" y2="311.07251" stroke="#222" stroke-width="1.1" />
<line x1="398.46000000000004" y1="300.48193000000003" x2="398.46000000000004" y2="280.74793" stroke="#222" stroke-width="1.1" />
<line x1="396.26000000000005" y1="280.74793" x2="400.66" y2="280.74793" stroke="#222" stroke-width="1.1" />
<line x1="436.28" y1="289.62823000000003" x2="436.28" y2="262.00063" stroke="#222" stroke-width="1.1" />
<line x1="434.08" y1="262.00063" x2="438.47999999999996" y2="262.00063" stroke="#222" stroke-width="1.1" />
<line x1="474.1" y1="274.10415" x2="474.1" y2="260.29035" stroke="#222" stroke-width="1.1" />
<line x1="471.90000000000003" y1="260.29035" x2="476.3" y2="260.29035" stroke="#222" stroke-width="1.1" />
<line x1="398.46000000000004" y1="334.06262000000004" x2="398.46000000000004" y2="325.34677" stroke="#222" stroke-width="1.1" />
<line x1="396.26000000000005" y1="325.34677" x2="400.66" y2="325.34677" stroke="#222" stroke-width="1.1" />
<line x1="436.28" y1="327.25439" x2="436.28" y2="321.00529" stroke="#222" stroke-width="1.1" />
<line x1="434.08" y1="321.00529" x2="438.47999999999996" y2="321.00529" stroke="#222" stroke-width="1.1" />
<line x1="474.1" y1="325.14943" x2="474.1" y2="316.59803" stroke="#222" stroke-width="1.1" />
<line x1="471.90000000000003" y1="316.59803" x2="476.3" y2="316.59803" stroke="#222" stroke-width="1.1" />
<polyline points="285.0,338.7 322.8,334.9 360.6,330.1 398.5,311.9 436.3,300.5 474.1,280.2" fill="none" stroke="#000" stroke-width="1.9" stroke-linejoin="round"/>
<polyline points="285.0,340.4 322.8,326.0 360.6,322.8 398.5,308.0 436.3,288.9 474.1,270.0" fill="none" stroke="#000" stroke-width="1.9" stroke-linejoin="round"/>
<polyline points="285.0,337.4 322.8,330.1 360.6,323.2 398.5,300.5 436.3,289.6 474.1,274.1" fill="none" stroke="#000" stroke-width="1.9" stroke-linejoin="round"/>
<polyline points="285.0,343.1 322.8,342.5 360.6,337.5 398.5,334.1 436.3,327.3 474.1,325.1" fill="none" stroke="#000" stroke-width="1.9" stroke-linejoin="round"/>
<circle cx="285.0" cy="338.7" r="3.4" fill="#fff" stroke="#000" stroke-width="1"/>
<circle cx="322.82" cy="334.9" r="3.4" fill="#fff" stroke="#000" stroke-width="1"/>
<circle cx="360.64" cy="330.1" r="3.4" fill="#fff" stroke="#000" stroke-width="1"/>
<circle cx="398.46000000000004" cy="311.9" r="3.4" fill="#fff" stroke="#000" stroke-width="1"/>
<circle cx="436.28" cy="300.5" r="3.4" fill="#fff" stroke="#000" stroke-width="1"/>
<circle cx="474.1" cy="280.2" r="3.4" fill="#fff" stroke="#000" stroke-width="1"/>
<polygon points="285.0,336.79999999999995 288.6,340.4 285.0,344.0 281.4,340.4" fill="#fff" stroke="#000" stroke-width="1"/>
<polygon points="322.82,322.4 326.42,326.0 322.82,329.6 319.21999999999997,326.0" fill="#fff" stroke="#000" stroke-width="1"/>
<polygon points="360.64,319.2 364.24,322.8 360.64,326.40000000000003 357.03999999999996,322.8" fill="#fff" stroke="#000" stroke-width="1"/>
<polygon points="398.46000000000004,304.4 402.06000000000006,308.0 398.46000000000004,311.6 394.86,308.0" fill="#fff" stroke="#000" stroke-width="1"/>
<polygon points="436.28,285.29999999999995 439.88,288.9 436.28,292.5 432.67999999999995,288.9" fill="#fff" stroke="#000" stroke-width="1"/>
<polygon points="474.1,266.4 477.70000000000005,270.0 474.1,273.6 470.5,270.0" fill="#fff" stroke="#000" stroke-width="1"/>
<circle cx="285.0" cy="337.4" r="3.9" fill="#000"/>
<circle cx="322.82" cy="330.1" r="3.9" fill="#000"/>
<circle cx="360.64" cy="323.2" r="3.9" fill="#000"/>
<circle cx="398.46000000000004" cy="300.5" r="3.9" fill="#000"/>
<circle cx="436.28" cy="289.6" r="3.9" fill="#000"/>
<circle cx="474.1" cy="274.1" r="3.9" fill="#000"/>
<polygon points="285.0,339.20000000000005 288.9,343.1 285.0,347.0 281.1,343.1" fill="#000" stroke="#000" stroke-width="1"/>
<polygon points="322.82,338.6 326.71999999999997,342.5 322.82,346.4 318.92,342.5" fill="#000" stroke="#000" stroke-width="1"/>
<polygon points="360.64,333.6 364.53999999999996,337.5 360.64,341.4 356.74,337.5" fill="#000" stroke="#000" stroke-width="1"/>
<polygon points="398.46000000000004,330.20000000000005 402.36,334.1 398.46000000000004,338.0 394.56000000000006,334.1" fill="#000" stroke="#000" stroke-width="1"/>
<polygon points="436.28,323.40000000000003 440.17999999999995,327.3 436.28,331.2 432.38,327.3" fill="#000" stroke="#000" stroke-width="1"/>
<polygon points="474.1,321.20000000000005 478.0,325.1 474.1,329.0 470.20000000000005,325.1" fill="#000" stroke="#000" stroke-width="1"/>
<line x1="398.40" y1="319.85" x2="398.40" y2="322.75" stroke="#223" stroke-width="0.8"/>
<line x1="397.14" y1="320.57" x2="399.66" y2="322.03" stroke="#223" stroke-width="0.8"/>
<line x1="399.66" y1="320.57" x2="397.14" y2="322.03" stroke="#223" stroke-width="0.8"/>
<line x1="289.7" y1="240.6" x2="311.3" y2="240.6" stroke="#000" stroke-width="1.7" />
<circle cx="301.2" cy="240.6" r="2.3" fill="#fff" stroke="#000" stroke-width="1"/>
<line x1="289.7" y1="256.7" x2="311.3" y2="256.7" stroke="#000" stroke-width="1.7" />
<polygon points="301.2,254.29999999999998 303.59999999999997,256.7 301.2,259.09999999999997 298.8,256.7" fill="#fff" stroke="#000" stroke-width="1"/>
<line x1="289.7" y1="272.9" x2="311.3" y2="272.9" stroke="#000" stroke-width="1.7" />
<circle cx="301.2" cy="272.9" r="2.8" fill="#000"/>
<line x1="289.7" y1="289.0" x2="311.3" y2="289.0" stroke="#000" stroke-width="1.7" />
<polygon points="301.2,286.4 303.8,289.0 301.2,291.6 298.59999999999997,289.0" fill="#000" stroke="#000" stroke-width="1"/>
<text x="319.8" y="243.4" font-size="9.0" font-weight="bold" text-anchor="start" fill="#111" stroke="#111" stroke-width="0.3" textLength="20.4" lengthAdjust="spacingAndGlyphs" >Cont</text>
<text x="320.4" y="259.5" font-size="9.0" font-weight="bold" text-anchor="start" fill="#111" stroke="#111" stroke-width="0.3" textLength="21.2" lengthAdjust="spacingAndGlyphs" >ActD</text>
<text x="321.4" y="275.7" font-size="9.0" font-weight="bold" text-anchor="start" fill="#111" stroke="#111" stroke-width="0.3" textLength="16.2" lengthAdjust="spacingAndGlyphs" >Rp1</text>
<text x="319.8" y="291.3" font-size="9.0" font-weight="bold" text-anchor="start" fill="#111" stroke="#111" stroke-width="0.3" textLength="43" lengthAdjust="spacingAndGlyphs" >ActD/Rp1</text>
<text x="469.4" y="309.3" font-size="8.9" font-weight="bold" fill="#111" stroke="#111" stroke-width="0.3" textLength="68.6" lengthAdjust="spacingAndGlyphs"><tspan font-style="italic">P</tspan>=0.05, vs ActD</text>
</svg></body></html>
